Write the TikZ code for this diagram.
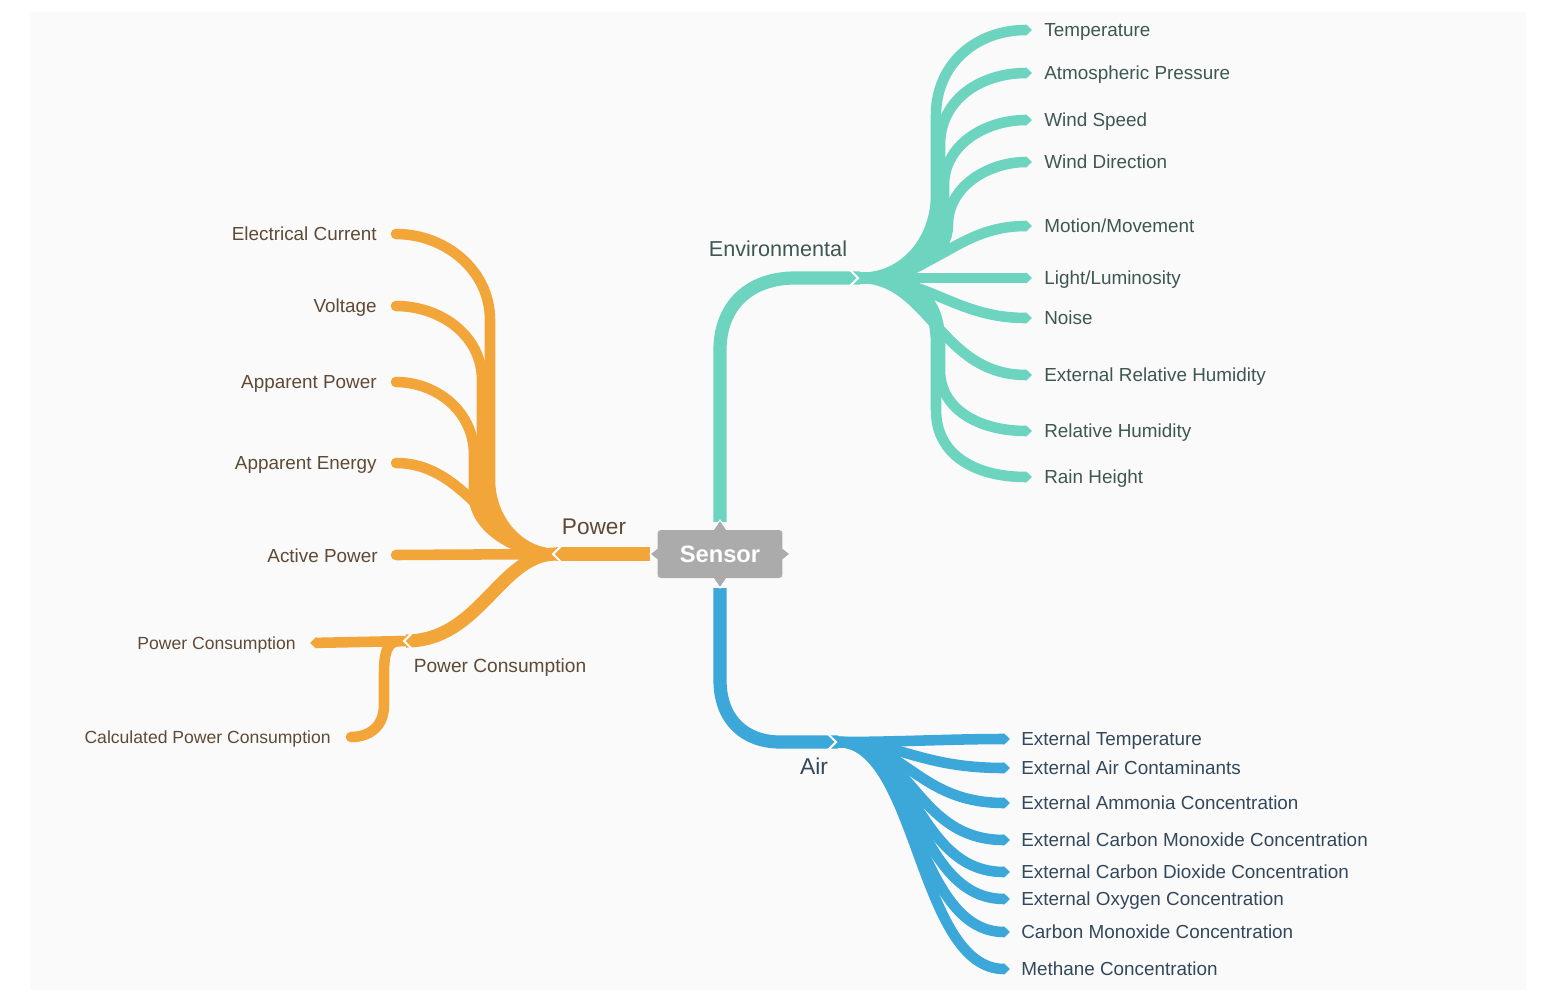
\documentclass[tikz,border=0pt]{standalone}
\usepackage{fontspec}
\setmainfont{Liberation Sans}
\usetikzlibrary{arrows.meta}
\definecolor{orangeb}{HTML}{F2A63A}
\definecolor{tealb}{HTML}{6CD4BF}
\definecolor{blueb}{HTML}{3BA8D9}
\definecolor{sensorgray}{HTML}{ABABAB}
\definecolor{txtorange}{HTML}{5E4A36}
\definecolor{txtteal}{HTML}{3E5752}
\definecolor{txtblue}{HTML}{33485A}
\definecolor{panel}{HTML}{FAFAFA}
\tikzset{
  lbl/.style={font=\fontsize{10.75}{12}\selectfont, inner sep=0pt, text height=0.72em, text depth=0.22em},
  lblL/.style={lbl, anchor=east, text=txtorange},
  lblLs/.style={lblL, font=\fontsize{10}{12}\selectfont},
  lblE/.style={lbl, anchor=west, text=txtteal},
  lblA/.style={lbl, anchor=west, text=txtblue},
  branchlbl/.style={inner sep=0pt, text height=0.72em, text depth=0.22em},
  trunkO/.style={draw=orangeb, line width=7.5pt},
  trunkT/.style={draw=tealb, line width=7.5pt},
  trunkB/.style={draw=blueb, line width=7.5pt},
  leafO/.style={draw=orangeb, line width=6pt, line cap=round},
  leafOp/.style={draw=orangeb, line width=6pt, -{Triangle[length=3.5pt,width=6.4pt]}},
  leafT/.style={draw=tealb, line width=6pt, -{Triangle[length=3.5pt,width=6.4pt]}},
  leafB/.style={draw=blueb, line width=6pt, -{Triangle[length=3.5pt,width=6.4pt]}},
  chev/.style={draw=white, line width=1.2pt},
  sensorbox/.style={fill=sensorgray, rounded corners=2pt, minimum width=2.5cm, minimum height=0.96cm,
     text=white, font=\fontsize{13.5}{16}\selectfont\bfseries, inner sep=0pt},
  notch/.style={fill=sensorgray, draw=white, line width=0.6pt, line join=miter}
}
\begin{document}
\begin{tikzpicture}[x=0.02cm,y=-0.02cm]
\useasboundingbox (0,0) rectangle (1542,998);
\fill[panel] (30,12) rectangle (1526,990);

% ---------- hubs / coordinates ----------
\coordinate (sL) at (650,554);
\coordinate (sT) at (720,522);
\coordinate (sB) at (720,588);
\coordinate (P) at (556,554);
\coordinate (PC) at (406,641);
\coordinate (H) at (860,278);
\coordinate (A) at (838,742);

% ---------- labels ----------
\node[lblL] (ec) at (377,236) {Electrical Current};
\node[lblL] (vo) at (377,308) {Voltage};
\node[lblL] (ap) at (377,384) {Apparent Power};
\node[lblL] (ae) at (377,465) {Apparent Energy};
\node[lblL] (ac) at (378,558) {Active Power};
\node[lblLs] (pcl) at (296,645) {Power Consumption};
\node[lblLs] (cpc) at (331,739) {Calculated Power Consumption};

\node[lblE] (te) at (1044,32) {Temperature};
\node[lblE] (at) at (1044,75) {Atmospheric Pressure};
\node[lblE] (ws) at (1044,122) {Wind Speed};
\node[lblE] (wd) at (1044,164) {Wind Direction};
\node[lblE] (mo) at (1044,228) {Motion/Movement};
\node[lblE] (li) at (1044,280) {Light/Luminosity};
\node[lblE] (no) at (1044,320) {Noise};
\node[lblE] (erh) at (1044,377) {External Relative Humidity};
\node[lblE] (rh) at (1044,433) {Relative Humidity};
\node[lblE] (ra) at (1044,479) {Rain Height};

\node[lblA] (a1) at (1021,741) {External Temperature};
\node[lblA] (a2) at (1021,770) {External Air Contaminants};
\node[lblA] (a3) at (1021,805) {External Ammonia Concentration};
\node[lblA] (a4) at (1021,842) {External Carbon Monoxide Concentration};
\node[lblA] (a5) at (1021,874) {External Carbon Dioxide Concentration};
\node[lblA] (a6) at (1021,901) {External Oxygen Concentration};
\node[lblA] (a7) at (1021,934) {Carbon Monoxide Concentration};
\node[lblA] (a8) at (1021,971) {Methane Concentration};

\node[branchlbl, text=txtorange, font=\fontsize{12.9}{15}\selectfont] (powerlbl) at (594,530) {Power};
\node[branchlbl, text=txtorange, font=\fontsize{10.9}{13}\selectfont] (pclbl) at (500,668) {Power Consumption};
\node[branchlbl, text=txtteal, font=\fontsize{12.3}{14}\selectfont] (envlbl) at (778,252) {Environmental};
\node[branchlbl, text=txtblue, font=\fontsize{13}{15}\selectfont] (airlbl) at (814,770) {Air};

% ---------- Power ----------
\draw[trunkO] (sL) -- (P);
\draw[leafO] (P) .. controls (520,554) and (490,520) .. (490,480) -- (490,320) .. controls (490,270) and (445,234) .. (396,234);
\draw[leafO] (P) .. controls (520,554) and (482,525) .. (482,485) -- (482,380) .. controls (482,335) and (440,306) .. (396,306);
\draw[leafO] (P) .. controls (520,554) and (474,530) .. (474,495) -- (474,455) .. controls (474,410) and (435,382) .. (396,382);
\draw[leafO] (P) .. controls (495,554) and (470,463) .. (396,463);
\draw[leafO] (P) -- (396,555);
\draw[trunkO] (P) .. controls (500,554) and (480,641) .. (PC);
\draw[leafOp] (PC) -- (310,643);
\draw[leafO] (400,641) .. controls (386,641) and (384,655) .. (384,675) -- (384,705) .. controls (384,726) and (370,737) .. (351,737);
\draw[chev] (561,546) -- (553,554) -- (561,562);
\draw[chev] (412,633) -- (404,641) -- (412,649);

% ---------- Environmental ----------
\draw[trunkT] (sT) -- (720,350) .. controls (720,305) and (750,278) .. (795,278) -- (H);
\draw[leafT] (H) .. controls (905,278) and (936,240) .. (936,195) -- (936,115) .. controls (936,65) and (975,30) .. (1032,30);
\draw[leafT] (H) .. controls (905,278) and (940,245) .. (940,200) -- (940,145) .. controls (940,100) and (980,73) .. (1032,73);
\draw[leafT] (H) .. controls (910,278) and (944,250) .. (944,210) -- (944,185) .. controls (944,145) and (985,120) .. (1032,120);
\draw[leafT] (H) .. controls (915,278) and (948,255) .. (948,225) .. controls (948,185) and (990,162) .. (1032,162);
\draw[leafT] (H) .. controls (935,278) and (955,226) .. (1032,226);
\draw[leafT] (H) -- (1032,278);
\draw[leafT] (H) .. controls (930,278) and (955,318) .. (1032,318);
\draw[leafT] (H) .. controls (930,278) and (940,375) .. (1032,375);
\draw[leafT] (H) .. controls (920,278) and (940,300) .. (940,345) -- (940,370) .. controls (940,410) and (980,431) .. (1032,431);
\draw[leafT] (H) .. controls (915,278) and (936,300) .. (936,345) -- (936,410) .. controls (936,455) and (975,477) .. (1032,477);
\draw[chev] (850,270) -- (858,278) -- (850,286);

% ---------- Air ----------
\draw[trunkB] (sB) -- (720,680) .. controls (720,720) and (745,742) .. (780,742) -- (A);
\draw[leafB] (A) .. controls (900,742) and (950,739) .. (1010,739);
\draw[leafB] (A) .. controls (900,742) and (920,768) .. (1010,768);
\draw[leafB] (A) .. controls (905,742) and (918,803) .. (1010,803);
\draw[leafB] (A) .. controls (912,742) and (915,840) .. (1010,840);
\draw[leafB] (A) .. controls (915,742) and (915,872) .. (1010,872);
\draw[leafB] (A) .. controls (915,742) and (915,899) .. (1010,899);
\draw[leafB] (A) .. controls (915,742) and (915,932) .. (1010,932);
\draw[leafB] (A) .. controls (918,742) and (918,969) .. (1010,969);
\draw[chev] (828,734) -- (836,742) -- (828,750);

% ---------- Sensor ----------
\fill[notch] (711,533) -- (720,520) -- (729,533) -- cycle;
\fill[notch] (711,575) -- (720,588) -- (729,575) -- cycle;
\fill[notch] (661,545) -- (650,554) -- (661,563) -- cycle;
\fill[notch] (779,545) -- (790,554) -- (779,563) -- cycle;
\node[sensorbox] (sensor) at (720,554) {Sensor};
\end{tikzpicture}
\end{document}
